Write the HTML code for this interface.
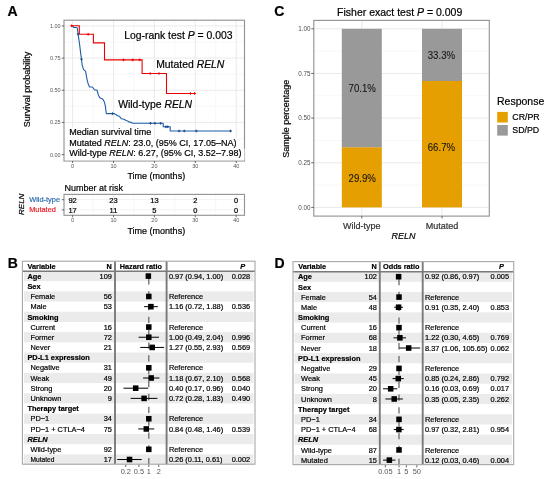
<!DOCTYPE html>
<html><head><meta charset="utf-8"><style>
html,body{margin:0;padding:0;background:#fff;}
body{width:550px;height:479px;overflow:hidden;}
svg{display:block;font-family:"Liberation Sans",sans-serif;will-change:transform;filter:blur(0.3px);}

</style></head><body>
<svg width="550" height="479" viewBox="0 0 550 479">
<rect width="550" height="479" fill="#fff"/>
<text x="7.50" y="16.30" font-size="14" font-weight="bold" stroke="#000" stroke-width="0.2">A</text>
<text x="7.70" y="267.60" font-size="14" font-weight="bold" stroke="#000" stroke-width="0.2">B</text>
<text x="274.30" y="16.40" font-size="14" font-weight="bold" stroke="#000" stroke-width="0.2">C</text>
<text x="274.40" y="267.60" font-size="14" font-weight="bold" stroke="#000" stroke-width="0.2">D</text>
<rect x="64.00" y="20.20" width="180.50" height="140.80" fill="#fff"/>
<line x1="93.05" y1="20.20" x2="93.05" y2="161.00" stroke="#f2f2f2" stroke-width="0.6"/>
<line x1="133.95" y1="20.20" x2="133.95" y2="161.00" stroke="#f2f2f2" stroke-width="0.6"/>
<line x1="174.85" y1="20.20" x2="174.85" y2="161.00" stroke="#f2f2f2" stroke-width="0.6"/>
<line x1="215.75" y1="20.20" x2="215.75" y2="161.00" stroke="#f2f2f2" stroke-width="0.6"/>
<line x1="64.00" y1="138.51" x2="244.50" y2="138.51" stroke="#f2f2f2" stroke-width="0.6"/>
<line x1="64.00" y1="106.34" x2="244.50" y2="106.34" stroke="#f2f2f2" stroke-width="0.6"/>
<line x1="64.00" y1="74.16" x2="244.50" y2="74.16" stroke="#f2f2f2" stroke-width="0.6"/>
<line x1="64.00" y1="41.99" x2="244.50" y2="41.99" stroke="#f2f2f2" stroke-width="0.6"/>
<line x1="72.60" y1="20.20" x2="72.60" y2="161.00" stroke="#e8e8e8" stroke-width="0.9"/>
<line x1="113.50" y1="20.20" x2="113.50" y2="161.00" stroke="#e8e8e8" stroke-width="0.9"/>
<line x1="154.40" y1="20.20" x2="154.40" y2="161.00" stroke="#e8e8e8" stroke-width="0.9"/>
<line x1="195.30" y1="20.20" x2="195.30" y2="161.00" stroke="#e8e8e8" stroke-width="0.9"/>
<line x1="236.20" y1="20.20" x2="236.20" y2="161.00" stroke="#e8e8e8" stroke-width="0.9"/>
<line x1="64.00" y1="154.60" x2="244.50" y2="154.60" stroke="#e8e8e8" stroke-width="0.9"/>
<line x1="64.00" y1="122.42" x2="244.50" y2="122.42" stroke="#e8e8e8" stroke-width="0.9"/>
<line x1="64.00" y1="90.25" x2="244.50" y2="90.25" stroke="#e8e8e8" stroke-width="0.9"/>
<line x1="64.00" y1="58.08" x2="244.50" y2="58.08" stroke="#e8e8e8" stroke-width="0.9"/>
<line x1="64.00" y1="25.90" x2="244.50" y2="25.90" stroke="#e8e8e8" stroke-width="0.9"/>
<path d="M72.10,25.90 L73.00,26.30 L73.60,27.50 L76.80,27.50 L77.40,28.50 L78.10,34.10 L79.50,43.60 L80.80,54.40 L81.50,59.20 L82.20,65.30 L83.50,69.30 L85.60,71.40 L86.90,78.80 L88.30,84.30 L89.60,87.00 L92.40,87.00 L94.40,89.70 L97.10,90.40 L98.50,95.50 L100.10,98.10 L102.70,99.10 L104.30,101.80 L105.30,105.90 L106.30,113.60 L114.60,113.60 L115.70,114.60 L117.70,115.70 L119.30,116.20 L121.40,118.80 L124.00,119.30 L126.10,120.40 L127.70,120.90 L128.70,121.90 L131.30,122.40 L132.40,123.30 L163.20,123.30 L163.20,126.80 L170.20,126.80 L170.20,131.00 L231.20,131.00" fill="none" stroke="#1F5FA8" stroke-width="1.1" stroke-linejoin="round"/>
<path d="M71.60,25.80 L79.30,25.80 L79.30,34.30 L93.40,34.30 L93.40,42.90 L104.50,42.90 L104.50,59.90 L142.10,59.90 L142.10,73.50 L166.50,73.50 L166.50,93.50 L194.60,93.50" fill="none" stroke="#ED0000" stroke-width="1.1"/>
<line x1="76.80" y1="34.10" x2="79.40" y2="34.10" stroke="#1a4f8f" stroke-width="1.0"/>
<line x1="78.10" y1="32.80" x2="78.10" y2="35.40" stroke="#1a4f8f" stroke-width="1.0"/>
<line x1="80.20" y1="59.20" x2="82.80" y2="59.20" stroke="#1a4f8f" stroke-width="1.0"/>
<line x1="81.50" y1="57.90" x2="81.50" y2="60.50" stroke="#1a4f8f" stroke-width="1.0"/>
<line x1="111.20" y1="113.60" x2="113.80" y2="113.60" stroke="#1a4f8f" stroke-width="1.0"/>
<line x1="112.50" y1="112.30" x2="112.50" y2="114.90" stroke="#1a4f8f" stroke-width="1.0"/>
<line x1="149.20" y1="123.30" x2="151.80" y2="123.30" stroke="#1a4f8f" stroke-width="1.0"/>
<line x1="150.50" y1="122.00" x2="150.50" y2="124.60" stroke="#1a4f8f" stroke-width="1.0"/>
<line x1="153.60" y1="123.30" x2="156.20" y2="123.30" stroke="#1a4f8f" stroke-width="1.0"/>
<line x1="154.90" y1="122.00" x2="154.90" y2="124.60" stroke="#1a4f8f" stroke-width="1.0"/>
<line x1="159.30" y1="123.30" x2="161.90" y2="123.30" stroke="#1a4f8f" stroke-width="1.0"/>
<line x1="160.60" y1="122.00" x2="160.60" y2="124.60" stroke="#1a4f8f" stroke-width="1.0"/>
<line x1="164.50" y1="126.80" x2="167.10" y2="126.80" stroke="#1a4f8f" stroke-width="1.0"/>
<line x1="165.80" y1="125.50" x2="165.80" y2="128.10" stroke="#1a4f8f" stroke-width="1.0"/>
<line x1="166.40" y1="126.80" x2="169.00" y2="126.80" stroke="#1a4f8f" stroke-width="1.0"/>
<line x1="167.70" y1="125.50" x2="167.70" y2="128.10" stroke="#1a4f8f" stroke-width="1.0"/>
<line x1="177.80" y1="131.00" x2="180.40" y2="131.00" stroke="#1a4f8f" stroke-width="1.0"/>
<line x1="179.10" y1="129.70" x2="179.10" y2="132.30" stroke="#1a4f8f" stroke-width="1.0"/>
<line x1="183.00" y1="131.00" x2="185.60" y2="131.00" stroke="#1a4f8f" stroke-width="1.0"/>
<line x1="184.30" y1="129.70" x2="184.30" y2="132.30" stroke="#1a4f8f" stroke-width="1.0"/>
<line x1="195.00" y1="131.00" x2="197.60" y2="131.00" stroke="#1a4f8f" stroke-width="1.0"/>
<line x1="196.30" y1="129.70" x2="196.30" y2="132.30" stroke="#1a4f8f" stroke-width="1.0"/>
<line x1="229.30" y1="131.00" x2="231.90" y2="131.00" stroke="#1a4f8f" stroke-width="1.0"/>
<line x1="230.60" y1="129.70" x2="230.60" y2="132.30" stroke="#1a4f8f" stroke-width="1.0"/>
<line x1="70.30" y1="25.80" x2="72.90" y2="25.80" stroke="#ED0000" stroke-width="1.0"/>
<line x1="71.60" y1="24.50" x2="71.60" y2="27.10" stroke="#ED0000" stroke-width="1.0"/>
<line x1="86.90" y1="34.30" x2="89.50" y2="34.30" stroke="#ED0000" stroke-width="1.0"/>
<line x1="88.20" y1="33.00" x2="88.20" y2="35.60" stroke="#ED0000" stroke-width="1.0"/>
<line x1="122.20" y1="59.90" x2="124.80" y2="59.90" stroke="#ED0000" stroke-width="1.0"/>
<line x1="123.50" y1="58.60" x2="123.50" y2="61.20" stroke="#ED0000" stroke-width="1.0"/>
<line x1="131.50" y1="59.90" x2="134.10" y2="59.90" stroke="#ED0000" stroke-width="1.0"/>
<line x1="132.80" y1="58.60" x2="132.80" y2="61.20" stroke="#ED0000" stroke-width="1.0"/>
<line x1="138.40" y1="59.90" x2="141.00" y2="59.90" stroke="#ED0000" stroke-width="1.0"/>
<line x1="139.70" y1="58.60" x2="139.70" y2="61.20" stroke="#ED0000" stroke-width="1.0"/>
<line x1="148.90" y1="73.50" x2="151.50" y2="73.50" stroke="#ED0000" stroke-width="1.0"/>
<line x1="150.20" y1="72.20" x2="150.20" y2="74.80" stroke="#ED0000" stroke-width="1.0"/>
<line x1="157.70" y1="73.50" x2="160.30" y2="73.50" stroke="#ED0000" stroke-width="1.0"/>
<line x1="159.00" y1="72.20" x2="159.00" y2="74.80" stroke="#ED0000" stroke-width="1.0"/>
<line x1="189.10" y1="93.50" x2="191.70" y2="93.50" stroke="#ED0000" stroke-width="1.0"/>
<line x1="190.40" y1="92.20" x2="190.40" y2="94.80" stroke="#ED0000" stroke-width="1.0"/>
<line x1="193.30" y1="93.50" x2="195.90" y2="93.50" stroke="#ED0000" stroke-width="1.0"/>
<line x1="194.60" y1="92.20" x2="194.60" y2="94.80" stroke="#ED0000" stroke-width="1.0"/>
<rect x="64" y="20.2" width="180.5" height="140.8" fill="none" stroke="#959595" stroke-width="1.15"/>
<line x1="61.80" y1="154.60" x2="64.00" y2="154.60" stroke="#444" stroke-width="0.8"/>
<text x="60.60" y="156.50" font-size="5.5" text-anchor="end" fill="#555">0.00</text>
<line x1="61.80" y1="122.42" x2="64.00" y2="122.42" stroke="#444" stroke-width="0.8"/>
<text x="60.60" y="124.33" font-size="5.5" text-anchor="end" fill="#555">0.25</text>
<line x1="61.80" y1="90.25" x2="64.00" y2="90.25" stroke="#444" stroke-width="0.8"/>
<text x="60.60" y="92.15" font-size="5.5" text-anchor="end" fill="#555">0.50</text>
<line x1="61.80" y1="58.08" x2="64.00" y2="58.08" stroke="#444" stroke-width="0.8"/>
<text x="60.60" y="59.98" font-size="5.5" text-anchor="end" fill="#555">0.75</text>
<line x1="61.80" y1="25.90" x2="64.00" y2="25.90" stroke="#444" stroke-width="0.8"/>
<text x="60.60" y="27.80" font-size="5.5" text-anchor="end" fill="#555">1.00</text>
<line x1="72.60" y1="161.00" x2="72.60" y2="163.00" stroke="#444" stroke-width="0.8"/>
<text x="72.60" y="168.20" font-size="5.5" text-anchor="middle" fill="#555">0</text>
<line x1="113.50" y1="161.00" x2="113.50" y2="163.00" stroke="#444" stroke-width="0.8"/>
<text x="113.50" y="168.20" font-size="5.5" text-anchor="middle" fill="#555">10</text>
<line x1="154.40" y1="161.00" x2="154.40" y2="163.00" stroke="#444" stroke-width="0.8"/>
<text x="154.40" y="168.20" font-size="5.5" text-anchor="middle" fill="#555">20</text>
<line x1="195.30" y1="161.00" x2="195.30" y2="163.00" stroke="#444" stroke-width="0.8"/>
<text x="195.30" y="168.20" font-size="5.5" text-anchor="middle" fill="#555">30</text>
<line x1="236.20" y1="161.00" x2="236.20" y2="163.00" stroke="#444" stroke-width="0.8"/>
<text x="236.20" y="168.20" font-size="5.5" text-anchor="middle" fill="#555">40</text>
<text x="156.30" y="178.50" font-size="9" text-anchor="middle" stroke="#000" stroke-width="0.2">Time (months)</text>
<text x="30.50" y="89.60" font-size="9" text-anchor="middle" stroke="#000" stroke-width="0.2" transform="rotate(-90 30.5 89.6)">Survival probability</text>
<rect x="65.00" y="127.80" width="87.50" height="10.40" fill="#fff"/>
<rect x="65.00" y="138.20" width="174.00" height="10.40" fill="#fff"/>
<rect x="65.00" y="148.60" width="179.50" height="11.70" fill="#fff"/>
<text x="124.20" y="38.60" font-size="10.4" stroke="#000" stroke-width="0.2">Log-rank test <tspan font-style="italic">P</tspan> = 0.003</text>
<text x="156.20" y="68.40" font-size="10.4" stroke="#000" stroke-width="0.2">Mutated <tspan font-style="italic">RELN</tspan></text>
<text x="118.20" y="107.80" font-size="10.4" stroke="#000" stroke-width="0.2">Wild-type <tspan font-style="italic">RELN</tspan></text>
<text x="69.30" y="135.40" font-size="9" stroke="#000" stroke-width="0.2">Median survival time</text>
<text x="69.30" y="145.80" font-size="9" stroke="#000" stroke-width="0.2">Mutated <tspan font-style="italic">RELN</tspan>: 23.0, (95% CI, 17.05–NA)</text>
<text x="69.30" y="156.20" font-size="9" stroke="#000" stroke-width="0.2">Wild-type <tspan font-style="italic">RELN</tspan>: 6.27, (95% CI, 3.52–7.98)</text>
<line x1="64.00" y1="199.70" x2="244.50" y2="199.70" stroke="#eeeeee" stroke-width="0.8"/>
<line x1="64.00" y1="209.90" x2="244.50" y2="209.90" stroke="#eeeeee" stroke-width="0.8"/>
<line x1="93.05" y1="194.40" x2="93.05" y2="215.30" stroke="#f0f0f0" stroke-width="0.6"/>
<line x1="133.95" y1="194.40" x2="133.95" y2="215.30" stroke="#f0f0f0" stroke-width="0.6"/>
<line x1="174.85" y1="194.40" x2="174.85" y2="215.30" stroke="#f0f0f0" stroke-width="0.6"/>
<line x1="215.75" y1="194.40" x2="215.75" y2="215.30" stroke="#f0f0f0" stroke-width="0.6"/>
<line x1="72.60" y1="194.40" x2="72.60" y2="215.30" stroke="#e8e8e8" stroke-width="0.9"/>
<line x1="113.50" y1="194.40" x2="113.50" y2="215.30" stroke="#e8e8e8" stroke-width="0.9"/>
<line x1="154.40" y1="194.40" x2="154.40" y2="215.30" stroke="#e8e8e8" stroke-width="0.9"/>
<line x1="195.30" y1="194.40" x2="195.30" y2="215.30" stroke="#e8e8e8" stroke-width="0.9"/>
<line x1="236.20" y1="194.40" x2="236.20" y2="215.30" stroke="#e8e8e8" stroke-width="0.9"/>
<rect x="64" y="194.4" width="180.5" height="20.900000000000006" fill="none" stroke="#959595" stroke-width="1.15"/>
<text x="64.60" y="191.20" font-size="9" stroke="#000" stroke-width="0.2">Number at risk</text>
<text x="72.60" y="202.80" font-size="7.5" text-anchor="middle" stroke="#000" stroke-width="0.2">92</text>
<text x="72.60" y="212.60" font-size="7.5" text-anchor="middle" stroke="#000" stroke-width="0.2">17</text>
<text x="113.50" y="202.80" font-size="7.5" text-anchor="middle" stroke="#000" stroke-width="0.2">23</text>
<text x="113.50" y="212.60" font-size="7.5" text-anchor="middle" stroke="#000" stroke-width="0.2">11</text>
<text x="154.40" y="202.80" font-size="7.5" text-anchor="middle" stroke="#000" stroke-width="0.2">13</text>
<text x="154.40" y="212.60" font-size="7.5" text-anchor="middle" stroke="#000" stroke-width="0.2">5</text>
<text x="195.30" y="202.80" font-size="7.5" text-anchor="middle" stroke="#000" stroke-width="0.2">2</text>
<text x="195.30" y="212.60" font-size="7.5" text-anchor="middle" stroke="#000" stroke-width="0.2">0</text>
<text x="236.20" y="202.80" font-size="7.5" text-anchor="middle" stroke="#000" stroke-width="0.2">0</text>
<text x="236.20" y="212.60" font-size="7.5" text-anchor="middle" stroke="#000" stroke-width="0.2">0</text>
<line x1="72.60" y1="215.30" x2="72.60" y2="217.30" stroke="#444" stroke-width="0.8"/>
<text x="72.60" y="222.30" font-size="5.5" text-anchor="middle" fill="#555">0</text>
<line x1="113.50" y1="215.30" x2="113.50" y2="217.30" stroke="#444" stroke-width="0.8"/>
<text x="113.50" y="222.30" font-size="5.5" text-anchor="middle" fill="#555">10</text>
<line x1="154.40" y1="215.30" x2="154.40" y2="217.30" stroke="#444" stroke-width="0.8"/>
<text x="154.40" y="222.30" font-size="5.5" text-anchor="middle" fill="#555">20</text>
<line x1="195.30" y1="215.30" x2="195.30" y2="217.30" stroke="#444" stroke-width="0.8"/>
<text x="195.30" y="222.30" font-size="5.5" text-anchor="middle" fill="#555">30</text>
<line x1="236.20" y1="215.30" x2="236.20" y2="217.30" stroke="#444" stroke-width="0.8"/>
<text x="236.20" y="222.30" font-size="5.5" text-anchor="middle" fill="#555">40</text>
<line x1="61.80" y1="199.70" x2="64.00" y2="199.70" stroke="#444" stroke-width="0.8"/>
<line x1="61.80" y1="209.90" x2="64.00" y2="209.90" stroke="#444" stroke-width="0.8"/>
<text x="29.20" y="201.50" font-size="7.4" fill="#2E6DB4" stroke="#2E6DB4" stroke-width="0.2">Wild-type</text>
<text x="29.20" y="211.50" font-size="7.4" fill="#ED1C24" stroke="#ED1C24" stroke-width="0.2">Mutated</text>
<text x="24.30" y="204.30" font-size="8" text-anchor="middle" font-style="italic" stroke="#000" stroke-width="0.2" transform="rotate(-90 24.3 204.3)">RELN</text>
<text x="156.30" y="234.40" font-size="9" text-anchor="middle" stroke="#000" stroke-width="0.2">Time (months)</text>
<rect x="313.80" y="20.40" width="175.50" height="195.70" fill="#fff"/>
<line x1="313.80" y1="185.08" x2="489.30" y2="185.08" stroke="#f2f2f2" stroke-width="0.6"/>
<line x1="313.80" y1="140.43" x2="489.30" y2="140.43" stroke="#f2f2f2" stroke-width="0.6"/>
<line x1="313.80" y1="95.78" x2="489.30" y2="95.78" stroke="#f2f2f2" stroke-width="0.6"/>
<line x1="313.80" y1="51.12" x2="489.30" y2="51.12" stroke="#f2f2f2" stroke-width="0.6"/>
<line x1="313.80" y1="207.40" x2="489.30" y2="207.40" stroke="#e8e8e8" stroke-width="0.9"/>
<line x1="313.80" y1="162.75" x2="489.30" y2="162.75" stroke="#e8e8e8" stroke-width="0.9"/>
<line x1="313.80" y1="118.10" x2="489.30" y2="118.10" stroke="#e8e8e8" stroke-width="0.9"/>
<line x1="313.80" y1="73.45" x2="489.30" y2="73.45" stroke="#e8e8e8" stroke-width="0.9"/>
<line x1="313.80" y1="28.80" x2="489.30" y2="28.80" stroke="#e8e8e8" stroke-width="0.9"/>
<line x1="361.80" y1="20.40" x2="361.80" y2="216.10" stroke="#e8e8e8" stroke-width="0.9"/>
<line x1="442.00" y1="20.40" x2="442.00" y2="216.10" stroke="#e8e8e8" stroke-width="0.9"/>
<rect x="341.80" y="147.20" width="40.00" height="60.20" fill="#E69F00"/>
<rect x="341.80" y="28.80" width="40.00" height="118.40" fill="#999999"/>
<rect x="422.00" y="81.00" width="40.00" height="126.40" fill="#E69F00"/>
<rect x="422.00" y="28.80" width="40.00" height="52.20" fill="#999999"/>
<text x="362.20" y="182.40" font-size="10.2" text-anchor="middle" fill="#111" stroke="#111" stroke-width="0.06" textLength="27.3" lengthAdjust="spacingAndGlyphs">29.9%</text>
<text x="362.20" y="92.20" font-size="10.2" text-anchor="middle" fill="#111" stroke="#111" stroke-width="0.06" textLength="27.3" lengthAdjust="spacingAndGlyphs">70.1%</text>
<text x="441.40" y="150.80" font-size="10.2" text-anchor="middle" fill="#111" stroke="#111" stroke-width="0.06" textLength="27.3" lengthAdjust="spacingAndGlyphs">66.7%</text>
<text x="441.40" y="59.30" font-size="10.2" text-anchor="middle" fill="#111" stroke="#111" stroke-width="0.06" textLength="27.3" lengthAdjust="spacingAndGlyphs">33.3%</text>
<rect x="313.8" y="20.4" width="175.5" height="195.7" fill="none" stroke="#959595" stroke-width="1.15"/>
<line x1="311.30" y1="207.40" x2="313.80" y2="207.40" stroke="#444" stroke-width="0.8"/>
<text x="310.40" y="209.60" font-size="6.3" text-anchor="end" fill="#4d4d4d">0.00</text>
<line x1="311.30" y1="162.75" x2="313.80" y2="162.75" stroke="#444" stroke-width="0.8"/>
<text x="310.40" y="164.95" font-size="6.3" text-anchor="end" fill="#4d4d4d">0.25</text>
<line x1="311.30" y1="118.10" x2="313.80" y2="118.10" stroke="#444" stroke-width="0.8"/>
<text x="310.40" y="120.30" font-size="6.3" text-anchor="end" fill="#4d4d4d">0.50</text>
<line x1="311.30" y1="73.45" x2="313.80" y2="73.45" stroke="#444" stroke-width="0.8"/>
<text x="310.40" y="75.65" font-size="6.3" text-anchor="end" fill="#4d4d4d">0.75</text>
<line x1="311.30" y1="28.80" x2="313.80" y2="28.80" stroke="#444" stroke-width="0.8"/>
<text x="310.40" y="31.00" font-size="6.3" text-anchor="end" fill="#4d4d4d">1.00</text>
<line x1="361.80" y1="216.10" x2="361.80" y2="218.50" stroke="#444" stroke-width="0.8"/>
<text x="361.80" y="229.30" font-size="9" text-anchor="middle" fill="#333" stroke="#333" stroke-width="0.2">Wild-type</text>
<line x1="442.00" y1="216.10" x2="442.00" y2="218.50" stroke="#444" stroke-width="0.8"/>
<text x="442.00" y="229.30" font-size="9" text-anchor="middle" fill="#333" stroke="#333" stroke-width="0.2">Mutated</text>
<text x="403.40" y="239.00" font-size="9" text-anchor="middle" font-style="italic" stroke="#000" stroke-width="0.2">RELN</text>
<text x="289.10" y="118.70" font-size="9" text-anchor="middle" stroke="#000" stroke-width="0.2" transform="rotate(-90 289.1 118.7)">Sample percentage</text>
<text x="399.70" y="15.80" font-size="10.5" text-anchor="middle" stroke="#000" stroke-width="0.2">Fisher exact test <tspan font-style="italic">P</tspan> = 0.009</text>
<text x="497.00" y="104.60" font-size="10.5" stroke="#000" stroke-width="0.2">Response</text>
<rect x="497.20" y="111.90" width="10.60" height="10.60" fill="#E69F00"/>
<rect x="497.20" y="125.00" width="10.60" height="10.60" fill="#999999"/>
<text x="512.30" y="119.80" font-size="8.8" stroke="#000" stroke-width="0.2">CR/PR</text>
<text x="512.30" y="133.00" font-size="8.8" stroke="#000" stroke-width="0.2">SD/PD</text>
<rect x="22.40" y="261.20" width="232.60" height="203.00" fill="#fff"/>
<rect x="23.90" y="271.00" width="229.60" height="10.19" fill="#ebebeb"/>
<rect x="23.90" y="291.38" width="229.60" height="10.19" fill="#ebebeb"/>
<rect x="23.90" y="311.76" width="229.60" height="10.19" fill="#ebebeb"/>
<rect x="23.90" y="332.14" width="229.60" height="10.19" fill="#ebebeb"/>
<rect x="23.90" y="352.52" width="229.60" height="10.19" fill="#ebebeb"/>
<rect x="23.90" y="372.90" width="229.60" height="10.19" fill="#ebebeb"/>
<rect x="23.90" y="393.28" width="229.60" height="10.19" fill="#ebebeb"/>
<rect x="23.90" y="413.66" width="229.60" height="10.19" fill="#ebebeb"/>
<rect x="23.90" y="434.04" width="229.60" height="10.19" fill="#ebebeb"/>
<rect x="23.90" y="454.42" width="229.60" height="10.19" fill="#ebebeb"/>
<clipPath id="cb"><rect x="116.0" y="271.0" width="49.599999999999994" height="193.2"/></clipPath>
<line x1="148.80" y1="252.62" x2="148.80" y2="466.20" stroke="#6a6a6a" stroke-width="1.3" stroke-dasharray="6.3 6.54" clip-path="url(#cb)"/>
<text x="27.40" y="278.75" font-size="7.4" font-weight="bold" stroke="#000" stroke-width="0.2">Age</text>
<text x="111.90" y="278.75" font-size="7.4" text-anchor="end" stroke="#000" stroke-width="0.2">109</text>
<text x="168.90" y="278.75" font-size="7.4" stroke="#000" stroke-width="0.2">0.97 (0.94, 1.00)</text>
<text x="250.20" y="278.75" font-size="7.4" text-anchor="end" stroke="#000" stroke-width="0.2">0.028</text>
<line x1="147.92" y1="276.10" x2="148.80" y2="276.10" stroke="#000" stroke-width="1"/>
<rect x="145.61" y="273.30" width="5.5" height="5.6" fill="#000"/>
<text x="27.40" y="288.94" font-size="7.4" font-weight="bold" stroke="#000" stroke-width="0.2">Sex</text>
<text x="30.50" y="299.13" font-size="7.4" stroke="#000" stroke-width="0.2">Female</text>
<text x="111.90" y="299.13" font-size="7.4" text-anchor="end" stroke="#000" stroke-width="0.2">56</text>
<text x="168.90" y="299.13" font-size="7.4" stroke="#000" stroke-width="0.2">Reference</text>
<rect x="146.05" y="293.68" width="5.5" height="5.6" fill="#000"/>
<text x="30.50" y="309.32" font-size="7.4" stroke="#000" stroke-width="0.2">Male</text>
<text x="111.90" y="309.32" font-size="7.4" text-anchor="end" stroke="#000" stroke-width="0.2">53</text>
<text x="168.90" y="309.32" font-size="7.4" stroke="#000" stroke-width="0.2">1.16 (0.72, 1.88)</text>
<text x="250.20" y="309.32" font-size="7.4" text-anchor="end" stroke="#000" stroke-width="0.2">0.536</text>
<line x1="144.10" y1="306.67" x2="157.83" y2="306.67" stroke="#000" stroke-width="1"/>
<rect x="148.17" y="303.87" width="5.5" height="5.6" fill="#000"/>
<text x="27.40" y="319.51" font-size="7.4" font-weight="bold" stroke="#000" stroke-width="0.2">Smoking</text>
<text x="30.50" y="329.70" font-size="7.4" stroke="#000" stroke-width="0.2">Current</text>
<text x="111.90" y="329.70" font-size="7.4" text-anchor="end" stroke="#000" stroke-width="0.2">16</text>
<text x="168.90" y="329.70" font-size="7.4" stroke="#000" stroke-width="0.2">Reference</text>
<rect x="146.05" y="324.25" width="5.5" height="5.6" fill="#000"/>
<text x="30.50" y="339.89" font-size="7.4" stroke="#000" stroke-width="0.2">Former</text>
<text x="111.90" y="339.89" font-size="7.4" text-anchor="end" stroke="#000" stroke-width="0.2">72</text>
<text x="168.90" y="339.89" font-size="7.4" stroke="#000" stroke-width="0.2">1.00 (0.49, 2.04)</text>
<text x="250.20" y="339.89" font-size="7.4" text-anchor="end" stroke="#000" stroke-width="0.2">0.996</text>
<line x1="138.60" y1="337.24" x2="159.00" y2="337.24" stroke="#000" stroke-width="1"/>
<rect x="146.05" y="334.44" width="5.5" height="5.6" fill="#000"/>
<text x="30.50" y="350.08" font-size="7.4" stroke="#000" stroke-width="0.2">Never</text>
<text x="111.90" y="350.08" font-size="7.4" text-anchor="end" stroke="#000" stroke-width="0.2">21</text>
<text x="168.90" y="350.08" font-size="7.4" stroke="#000" stroke-width="0.2">1.27 (0.55, 2.93)</text>
<text x="250.20" y="350.08" font-size="7.4" text-anchor="end" stroke="#000" stroke-width="0.2">0.569</text>
<line x1="140.25" y1="347.43" x2="164.17" y2="347.43" stroke="#000" stroke-width="1"/>
<rect x="149.47" y="344.63" width="5.5" height="5.6" fill="#000"/>
<text x="27.40" y="360.27" font-size="7.4" font-weight="bold" stroke="#000" stroke-width="0.2">PD-L1 expression</text>
<text x="30.50" y="370.46" font-size="7.4" stroke="#000" stroke-width="0.2">Negative</text>
<text x="111.90" y="370.46" font-size="7.4" text-anchor="end" stroke="#000" stroke-width="0.2">31</text>
<text x="168.90" y="370.46" font-size="7.4" stroke="#000" stroke-width="0.2">Reference</text>
<rect x="146.05" y="365.01" width="5.5" height="5.6" fill="#000"/>
<text x="30.50" y="380.65" font-size="7.4" stroke="#000" stroke-width="0.2">Weak</text>
<text x="111.90" y="380.65" font-size="7.4" text-anchor="end" stroke="#000" stroke-width="0.2">49</text>
<text x="168.90" y="380.65" font-size="7.4" stroke="#000" stroke-width="0.2">1.18 (0.67, 2.10)</text>
<text x="250.20" y="380.65" font-size="7.4" text-anchor="end" stroke="#000" stroke-width="0.2">0.568</text>
<line x1="143.07" y1="378.00" x2="159.41" y2="378.00" stroke="#000" stroke-width="1"/>
<rect x="148.42" y="375.20" width="5.5" height="5.6" fill="#000"/>
<text x="30.50" y="390.84" font-size="7.4" stroke="#000" stroke-width="0.2">Strong</text>
<text x="111.90" y="390.84" font-size="7.4" text-anchor="end" stroke="#000" stroke-width="0.2">20</text>
<text x="168.90" y="390.84" font-size="7.4" stroke="#000" stroke-width="0.2">0.40 (0.17, 0.96)</text>
<text x="250.20" y="390.84" font-size="7.4" text-anchor="end" stroke="#000" stroke-width="0.2">0.040</text>
<line x1="123.46" y1="388.19" x2="148.22" y2="388.19" stroke="#000" stroke-width="1"/>
<rect x="132.95" y="385.39" width="5.5" height="5.6" fill="#000"/>
<text x="30.50" y="401.03" font-size="7.4" stroke="#000" stroke-width="0.2">Unknown</text>
<text x="111.90" y="401.03" font-size="7.4" text-anchor="end" stroke="#000" stroke-width="0.2">9</text>
<text x="168.90" y="401.03" font-size="7.4" stroke="#000" stroke-width="0.2">0.72 (0.28, 1.83)</text>
<text x="250.20" y="401.03" font-size="7.4" text-anchor="end" stroke="#000" stroke-width="0.2">0.490</text>
<line x1="130.60" y1="398.38" x2="157.44" y2="398.38" stroke="#000" stroke-width="1"/>
<rect x="141.35" y="395.58" width="5.5" height="5.6" fill="#000"/>
<text x="27.40" y="411.22" font-size="7.4" font-weight="bold" stroke="#000" stroke-width="0.2">Therapy target</text>
<text x="30.50" y="421.41" font-size="7.4" stroke="#000" stroke-width="0.2">PD−1</text>
<text x="111.90" y="421.41" font-size="7.4" text-anchor="end" stroke="#000" stroke-width="0.2">34</text>
<text x="168.90" y="421.41" font-size="7.4" stroke="#000" stroke-width="0.2">Reference</text>
<rect x="146.05" y="415.96" width="5.5" height="5.6" fill="#000"/>
<text x="30.50" y="431.60" font-size="7.4" stroke="#000" stroke-width="0.2">PD−1 + CTLA−4</text>
<text x="111.90" y="431.60" font-size="7.4" text-anchor="end" stroke="#000" stroke-width="0.2">75</text>
<text x="168.90" y="431.60" font-size="7.4" stroke="#000" stroke-width="0.2">0.84 (0.48, 1.46)</text>
<text x="250.20" y="431.60" font-size="7.4" text-anchor="end" stroke="#000" stroke-width="0.2">0.539</text>
<line x1="138.30" y1="428.95" x2="154.21" y2="428.95" stroke="#000" stroke-width="1"/>
<rect x="143.56" y="426.15" width="5.5" height="5.6" fill="#000"/>
<text x="27.40" y="441.79" font-size="7.4" font-weight="bold" font-style="italic" stroke="#000" stroke-width="0.2">RELN</text>
<text x="30.50" y="451.98" font-size="7.4" stroke="#000" stroke-width="0.2">Wild-type</text>
<text x="111.90" y="451.98" font-size="7.4" text-anchor="end" stroke="#000" stroke-width="0.2">92</text>
<text x="168.90" y="451.98" font-size="7.4" stroke="#000" stroke-width="0.2">Reference</text>
<rect x="146.05" y="446.53" width="5.5" height="5.6" fill="#000"/>
<text x="30.50" y="462.17" font-size="7.4" stroke="#000" stroke-width="0.2" textLength="24" lengthAdjust="spacingAndGlyphs">Mutated</text>
<text x="111.90" y="462.17" font-size="7.4" text-anchor="end" stroke="#000" stroke-width="0.2">17</text>
<text x="168.90" y="462.17" font-size="7.4" stroke="#000" stroke-width="0.2">0.26 (0.11, 0.61)</text>
<text x="250.20" y="462.17" font-size="7.4" text-anchor="end" stroke="#000" stroke-width="0.2">0.002</text>
<line x1="117.24" y1="459.52" x2="141.73" y2="459.52" stroke="#000" stroke-width="1"/>
<rect x="126.79" y="456.72" width="5.5" height="5.6" fill="#000"/>
<text x="27.60" y="268.80" font-size="7.3" font-weight="bold" stroke="#000" stroke-width="0.2">Variable</text>
<text x="111.90" y="268.80" font-size="7.3" text-anchor="end" font-weight="bold" stroke="#000" stroke-width="0.2">N</text>
<text x="140.80" y="268.80" font-size="7.3" text-anchor="middle" font-weight="bold" stroke="#000" stroke-width="0.2">Hazard ratio</text>
<text x="245.20" y="268.80" font-size="7.4" text-anchor="end" font-weight="bold" font-style="italic" stroke="#000" stroke-width="0.2">P</text>
<line x1="22.40" y1="271.20" x2="255.00" y2="271.20" stroke="#7a7a7a" stroke-width="1.6"/>
<line x1="115.00" y1="261.20" x2="115.00" y2="464.20" stroke="#7a7a7a" stroke-width="1.9"/>
<line x1="166.60" y1="261.20" x2="166.60" y2="464.20" stroke="#7a7a7a" stroke-width="1.9"/>
<rect x="22.4" y="261.2" width="232.6" height="203.0" fill="none" stroke="#a8a8a8" stroke-width="1.1"/>
<line x1="125.79" y1="464.80" x2="125.79" y2="467.00" stroke="#555" stroke-width="0.9"/>
<text x="125.79" y="473.60" font-size="7.4" text-anchor="middle" fill="#555">0.2</text>
<line x1="138.89" y1="464.80" x2="138.89" y2="467.00" stroke="#555" stroke-width="0.9"/>
<text x="138.89" y="473.60" font-size="7.4" text-anchor="middle" fill="#555">0.5</text>
<line x1="148.80" y1="464.80" x2="148.80" y2="467.00" stroke="#555" stroke-width="0.9"/>
<text x="148.80" y="473.60" font-size="7.4" text-anchor="middle" fill="#555">1</text>
<line x1="158.71" y1="464.80" x2="158.71" y2="467.00" stroke="#555" stroke-width="0.9"/>
<text x="158.71" y="473.60" font-size="7.4" text-anchor="middle" fill="#555">2</text>
<rect x="293.00" y="261.60" width="220.70" height="203.00" fill="#fff"/>
<rect x="294.50" y="271.60" width="217.70" height="10.19" fill="#ebebeb"/>
<rect x="294.50" y="291.98" width="217.70" height="10.19" fill="#ebebeb"/>
<rect x="294.50" y="312.36" width="217.70" height="10.19" fill="#ebebeb"/>
<rect x="294.50" y="332.74" width="217.70" height="10.19" fill="#ebebeb"/>
<rect x="294.50" y="353.12" width="217.70" height="10.19" fill="#ebebeb"/>
<rect x="294.50" y="373.50" width="217.70" height="10.19" fill="#ebebeb"/>
<rect x="294.50" y="393.88" width="217.70" height="10.19" fill="#ebebeb"/>
<rect x="294.50" y="414.26" width="217.70" height="10.19" fill="#ebebeb"/>
<rect x="294.50" y="434.64" width="217.70" height="10.19" fill="#ebebeb"/>
<rect x="294.50" y="455.02" width="217.70" height="10.19" fill="#ebebeb"/>
<clipPath id="cd"><rect x="380.8" y="271.6" width="40.89999999999998" height="193.0"/></clipPath>
<line x1="399.00" y1="253.22" x2="399.00" y2="466.60" stroke="#6a6a6a" stroke-width="1.3" stroke-dasharray="6.3 6.54" clip-path="url(#cd)"/>
<text x="298.00" y="279.35" font-size="7.4" font-weight="bold" stroke="#000" stroke-width="0.2">Age</text>
<text x="376.90" y="279.35" font-size="7.4" text-anchor="end" stroke="#000" stroke-width="0.2">102</text>
<text x="425.00" y="279.35" font-size="7.4" stroke="#000" stroke-width="0.2">0.92 (0.86, 0.97)</text>
<text x="509.10" y="279.35" font-size="7.4" text-anchor="end" stroke="#000" stroke-width="0.2">0.005</text>
<line x1="398.31" y1="276.70" x2="398.86" y2="276.70" stroke="#000" stroke-width="1"/>
<rect x="395.87" y="273.90" width="5.5" height="5.6" fill="#000"/>
<text x="298.00" y="289.54" font-size="7.4" font-weight="bold" stroke="#000" stroke-width="0.2">Sex</text>
<text x="301.10" y="299.73" font-size="7.4" stroke="#000" stroke-width="0.2">Female</text>
<text x="376.90" y="299.73" font-size="7.4" text-anchor="end" stroke="#000" stroke-width="0.2">54</text>
<text x="425.00" y="299.73" font-size="7.4" stroke="#000" stroke-width="0.2">Reference</text>
<rect x="396.25" y="294.28" width="5.5" height="5.6" fill="#000"/>
<text x="301.10" y="309.92" font-size="7.4" stroke="#000" stroke-width="0.2">Male</text>
<text x="376.90" y="309.92" font-size="7.4" text-anchor="end" stroke="#000" stroke-width="0.2">48</text>
<text x="425.00" y="309.92" font-size="7.4" stroke="#000" stroke-width="0.2">0.91 (0.35, 2.40)</text>
<text x="509.10" y="309.92" font-size="7.4" text-anchor="end" stroke="#000" stroke-width="0.2">0.853</text>
<line x1="394.22" y1="307.27" x2="402.98" y2="307.27" stroke="#000" stroke-width="1"/>
<rect x="395.82" y="304.47" width="5.5" height="5.6" fill="#000"/>
<text x="298.00" y="320.11" font-size="7.4" font-weight="bold" stroke="#000" stroke-width="0.2">Smoking</text>
<text x="301.10" y="330.30" font-size="7.4" stroke="#000" stroke-width="0.2">Current</text>
<text x="376.90" y="330.30" font-size="7.4" text-anchor="end" stroke="#000" stroke-width="0.2">16</text>
<text x="425.00" y="330.30" font-size="7.4" stroke="#000" stroke-width="0.2">Reference</text>
<rect x="396.25" y="324.85" width="5.5" height="5.6" fill="#000"/>
<text x="301.10" y="340.49" font-size="7.4" stroke="#000" stroke-width="0.2">Former</text>
<text x="376.90" y="340.49" font-size="7.4" text-anchor="end" stroke="#000" stroke-width="0.2">68</text>
<text x="425.00" y="340.49" font-size="7.4" stroke="#000" stroke-width="0.2">1.22 (0.30, 4.65)</text>
<text x="509.10" y="340.49" font-size="7.4" text-anchor="end" stroke="#000" stroke-width="0.2">0.769</text>
<line x1="393.52" y1="337.84" x2="405.99" y2="337.84" stroke="#000" stroke-width="1"/>
<rect x="397.15" y="335.04" width="5.5" height="5.6" fill="#000"/>
<text x="301.10" y="350.68" font-size="7.4" stroke="#000" stroke-width="0.2">Never</text>
<text x="376.90" y="350.68" font-size="7.4" text-anchor="end" stroke="#000" stroke-width="0.2">18</text>
<text x="425.00" y="350.68" font-size="7.4" stroke="#000" stroke-width="0.2">8.37 (1.06, 105.65)</text>
<text x="509.10" y="350.68" font-size="7.4" text-anchor="end" stroke="#000" stroke-width="0.2">0.062</text>
<line x1="399.27" y1="348.03" x2="420.20" y2="348.03" stroke="#000" stroke-width="1"/>
<rect x="405.92" y="345.23" width="5.5" height="5.6" fill="#000"/>
<text x="298.00" y="360.87" font-size="7.4" font-weight="bold" stroke="#000" stroke-width="0.2">PD-L1 expression</text>
<text x="301.10" y="371.06" font-size="7.4" stroke="#000" stroke-width="0.2">Negative</text>
<text x="376.90" y="371.06" font-size="7.4" text-anchor="end" stroke="#000" stroke-width="0.2">29</text>
<text x="425.00" y="371.06" font-size="7.4" stroke="#000" stroke-width="0.2">Reference</text>
<rect x="396.25" y="365.61" width="5.5" height="5.6" fill="#000"/>
<text x="301.10" y="381.25" font-size="7.4" stroke="#000" stroke-width="0.2">Weak</text>
<text x="376.90" y="381.25" font-size="7.4" text-anchor="end" stroke="#000" stroke-width="0.2">45</text>
<text x="425.00" y="381.25" font-size="7.4" stroke="#000" stroke-width="0.2">0.85 (0.24, 2.86)</text>
<text x="509.10" y="381.25" font-size="7.4" text-anchor="end" stroke="#000" stroke-width="0.2">0.792</text>
<line x1="392.51" y1="378.60" x2="403.78" y2="378.60" stroke="#000" stroke-width="1"/>
<rect x="395.51" y="375.80" width="5.5" height="5.6" fill="#000"/>
<text x="301.10" y="391.44" font-size="7.4" stroke="#000" stroke-width="0.2">Strong</text>
<text x="376.90" y="391.44" font-size="7.4" text-anchor="end" stroke="#000" stroke-width="0.2">20</text>
<text x="425.00" y="391.44" font-size="7.4" stroke="#000" stroke-width="0.2">0.16 (0.03, 0.69)</text>
<text x="509.10" y="391.44" font-size="7.4" text-anchor="end" stroke="#000" stroke-width="0.2">0.017</text>
<line x1="383.05" y1="388.79" x2="397.31" y2="388.79" stroke="#000" stroke-width="1"/>
<rect x="387.91" y="385.99" width="5.5" height="5.6" fill="#000"/>
<text x="301.10" y="401.63" font-size="7.4" stroke="#000" stroke-width="0.2">Unknown</text>
<text x="376.90" y="401.63" font-size="7.4" text-anchor="end" stroke="#000" stroke-width="0.2">8</text>
<text x="425.00" y="401.63" font-size="7.4" stroke="#000" stroke-width="0.2">0.35 (0.05, 2.35)</text>
<text x="509.10" y="401.63" font-size="7.4" text-anchor="end" stroke="#000" stroke-width="0.2">0.262</text>
<line x1="385.37" y1="398.98" x2="402.89" y2="398.98" stroke="#000" stroke-width="1"/>
<rect x="391.47" y="396.18" width="5.5" height="5.6" fill="#000"/>
<text x="298.00" y="411.82" font-size="7.4" font-weight="bold" stroke="#000" stroke-width="0.2">Therapy target</text>
<text x="301.10" y="422.01" font-size="7.4" stroke="#000" stroke-width="0.2">PD−1</text>
<text x="376.90" y="422.01" font-size="7.4" text-anchor="end" stroke="#000" stroke-width="0.2">34</text>
<text x="425.00" y="422.01" font-size="7.4" stroke="#000" stroke-width="0.2">Reference</text>
<rect x="396.25" y="416.56" width="5.5" height="5.6" fill="#000"/>
<text x="301.10" y="432.20" font-size="7.4" stroke="#000" stroke-width="0.2">PD−1 + CTLA−4</text>
<text x="376.90" y="432.20" font-size="7.4" text-anchor="end" stroke="#000" stroke-width="0.2">68</text>
<text x="425.00" y="432.20" font-size="7.4" stroke="#000" stroke-width="0.2">0.97 (0.32, 2.81)</text>
<text x="509.10" y="432.20" font-size="7.4" text-anchor="end" stroke="#000" stroke-width="0.2">0.954</text>
<line x1="393.82" y1="429.55" x2="403.70" y2="429.55" stroke="#000" stroke-width="1"/>
<rect x="396.11" y="426.75" width="5.5" height="5.6" fill="#000"/>
<text x="298.00" y="442.39" font-size="7.4" font-weight="bold" font-style="italic" stroke="#000" stroke-width="0.2">RELN</text>
<text x="301.10" y="452.58" font-size="7.4" stroke="#000" stroke-width="0.2">Wild-type</text>
<text x="376.90" y="452.58" font-size="7.4" text-anchor="end" stroke="#000" stroke-width="0.2">87</text>
<text x="425.00" y="452.58" font-size="7.4" stroke="#000" stroke-width="0.2">Reference</text>
<rect x="396.25" y="447.13" width="5.5" height="5.6" fill="#000"/>
<text x="301.10" y="462.77" font-size="7.4" stroke="#000" stroke-width="0.2">Mutated</text>
<text x="376.90" y="462.77" font-size="7.4" text-anchor="end" stroke="#000" stroke-width="0.2">15</text>
<text x="425.00" y="462.77" font-size="7.4" stroke="#000" stroke-width="0.2">0.12 (0.03, 0.46)</text>
<text x="509.10" y="462.77" font-size="7.4" text-anchor="end" stroke="#000" stroke-width="0.2">0.004</text>
<line x1="383.05" y1="460.12" x2="395.47" y2="460.12" stroke="#000" stroke-width="1"/>
<rect x="386.60" y="457.32" width="5.5" height="5.6" fill="#000"/>
<text x="298.20" y="269.40" font-size="7.3" font-weight="bold" stroke="#000" stroke-width="0.2">Variable</text>
<text x="376.90" y="269.40" font-size="7.3" text-anchor="end" font-weight="bold" stroke="#000" stroke-width="0.2">N</text>
<text x="401.25" y="269.40" font-size="7.3" text-anchor="middle" font-weight="bold" stroke="#000" stroke-width="0.2">Odds ratio</text>
<text x="504.00" y="269.40" font-size="7.4" text-anchor="end" font-weight="bold" font-style="italic" stroke="#000" stroke-width="0.2">P</text>
<line x1="293.00" y1="271.80" x2="513.70" y2="271.80" stroke="#7a7a7a" stroke-width="1.6"/>
<line x1="379.80" y1="261.60" x2="379.80" y2="464.60" stroke="#7a7a7a" stroke-width="1.9"/>
<line x1="422.70" y1="261.60" x2="422.70" y2="464.60" stroke="#7a7a7a" stroke-width="1.9"/>
<rect x="293.0" y="261.6" width="220.70000000000005" height="203.0" fill="none" stroke="#a8a8a8" stroke-width="1.1"/>
<line x1="385.37" y1="465.20" x2="385.37" y2="467.40" stroke="#555" stroke-width="0.9"/>
<text x="385.37" y="473.60" font-size="7.4" text-anchor="middle" fill="#555">0.05</text>
<line x1="399.00" y1="465.20" x2="399.00" y2="467.40" stroke="#555" stroke-width="0.9"/>
<text x="399.00" y="473.60" font-size="7.4" text-anchor="middle" fill="#555">1</text>
<line x1="406.32" y1="465.20" x2="406.32" y2="467.40" stroke="#555" stroke-width="0.9"/>
<text x="406.32" y="473.60" font-size="7.4" text-anchor="middle" fill="#555">5</text>
<line x1="416.80" y1="465.20" x2="416.80" y2="467.40" stroke="#555" stroke-width="0.9"/>
<text x="416.80" y="473.60" font-size="7.4" text-anchor="middle" fill="#555">50</text>
</svg>
</body></html>
